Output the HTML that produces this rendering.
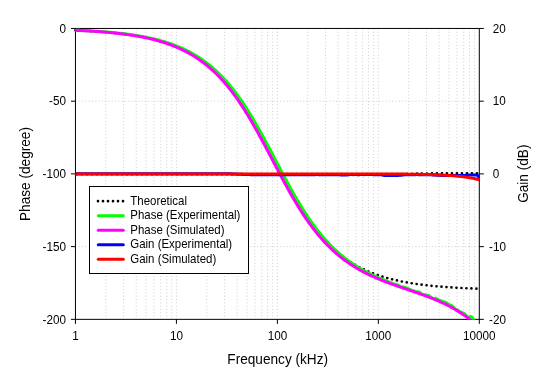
<!DOCTYPE html>
<html lang="en"><head><meta charset="utf-8"><title>Phase and Gain vs Frequency</title>
<style>
html,body{margin:0;padding:0;background:#fff;}
body{width:550px;height:374px;overflow:hidden;}
svg{display:block;}
text{font-family:"Liberation Sans", Arial, Helvetica, sans-serif;font-size:12px;fill:#000;}
.title{font-size:14.4px;}
.grid{stroke:#cdcdcd;stroke-width:1;stroke-dasharray:1 2.3;fill:none;}
.dot{stroke:#000;stroke-width:2.7;stroke-linecap:round;stroke-dasharray:0 5;fill:none;}
.ln{fill:none;stroke-width:3;stroke-linejoin:round;stroke-linecap:butt;}
</style></head><body>
<svg width="550" height="374" viewBox="0 0 550 374">
<rect width="550" height="374" fill="#fff"/>
<defs><clipPath id="cp"><rect x="73.95" y="27.95" width="406.45000000000005" height="291.90000000000003"/></clipPath></defs>
<path class="grid" d="M105.84,28.45 V319.35 M123.62,28.45 V319.35 M136.24,28.45 V319.35 M146.02,28.45 V319.35 M154.01,28.45 V319.35 M160.77,28.45 V319.35 M166.63,28.45 V319.35 M171.79,28.45 V319.35 M176.41,28.45 V319.35 M206.81,28.45 V319.35 M224.58,28.45 V319.35 M237.20,28.45 V319.35 M246.98,28.45 V319.35 M254.98,28.45 V319.35 M261.74,28.45 V319.35 M267.59,28.45 V319.35 M272.76,28.45 V319.35 M277.38,28.45 V319.35 M307.77,28.45 V319.35 M325.55,28.45 V319.35 M338.16,28.45 V319.35 M347.94,28.45 V319.35 M355.94,28.45 V319.35 M362.70,28.45 V319.35 M368.55,28.45 V319.35 M373.72,28.45 V319.35 M378.34,28.45 V319.35 M408.73,28.45 V319.35 M426.51,28.45 V319.35 M439.12,28.45 V319.35 M448.91,28.45 V319.35 M456.90,28.45 V319.35 M463.66,28.45 V319.35 M469.52,28.45 V319.35 M474.68,28.45 V319.35 M75.45,101.18 H479.3 M75.45,173.90 H479.3 M75.45,246.63 H479.3"/>
<rect x="75.45" y="28.45" width="403.85" height="290.90000000000003" fill="none" stroke="#000" stroke-width="1"/>
<g clip-path="url(#cp)">
<path class="dot" d="M75.45,30.30 L76.45,30.34 L77.45,30.39 L78.45,30.43 L79.45,30.48 L80.45,30.53 L81.45,30.57 L82.45,30.62 L83.45,30.67 L84.45,30.72 L85.45,30.78 L86.45,30.83 L87.45,30.88 L88.45,30.94 L89.44,31.00 L90.44,31.06 L91.44,31.12 L92.44,31.18 L93.44,31.24 L94.44,31.31 L95.44,31.37 L96.44,31.44 L97.44,31.51 L98.44,31.58 L99.44,31.65 L100.44,31.72 L101.44,31.80 L102.44,31.88 L103.44,31.96 L104.44,32.04 L105.44,32.12 L106.44,32.20 L107.44,32.29 L108.44,32.38 L109.44,32.47 L110.44,32.56 L111.44,32.66 L112.44,32.75 L113.44,32.85 L114.44,32.95 L115.44,33.06 L116.43,33.16 L117.43,33.27 L118.43,33.38 L119.43,33.50 L120.43,33.61 L121.43,33.73 L122.43,33.86 L123.43,33.98 L124.43,34.11 L125.43,34.24 L126.43,34.37 L127.43,34.51 L128.43,34.65 L129.43,34.79 L130.43,34.94 L131.43,35.09 L132.43,35.24 L133.43,35.39 L134.43,35.55 L135.43,35.72 L136.43,35.89 L137.43,36.06 L138.43,36.23 L139.43,36.41 L140.43,36.59 L141.43,36.78 L142.43,36.97 L143.42,37.17 L144.42,37.37 L145.42,37.58 L146.42,37.79 L147.42,38.00 L148.42,38.22 L149.42,38.44 L150.42,38.67 L151.42,38.91 L152.42,39.15 L153.42,39.40 L154.42,39.65 L155.42,39.91 L156.42,40.17 L157.42,40.44 L158.42,40.71 L159.42,41.00 L160.42,41.28 L161.42,41.58 L162.42,41.88 L163.42,42.19 L164.42,42.50 L165.42,42.83 L166.42,43.16 L167.42,43.49 L168.42,43.84 L169.42,44.19 L170.41,44.55 L171.41,44.92 L172.41,45.30 L173.41,45.68 L174.41,46.08 L175.41,46.48 L176.41,46.89 L177.41,47.32 L178.41,47.75 L179.41,48.19 L180.41,48.64 L181.41,49.10 L182.41,49.57 L183.41,50.05 L184.41,50.54 L185.41,51.05 L186.41,51.56 L187.41,52.09 L188.41,52.63 L189.41,53.17 L190.41,53.74 L191.41,54.31 L192.41,54.90 L193.41,55.50 L194.41,56.11 L195.41,56.73 L196.41,57.37 L197.40,58.03 L198.40,58.69 L199.40,59.38 L200.40,60.07 L201.40,60.78 L202.40,61.51 L203.40,62.25 L204.40,63.01 L205.40,63.78 L206.40,64.57 L207.40,65.38 L208.40,66.20 L209.40,67.04 L210.40,67.90 L211.40,68.77 L212.40,69.67 L213.40,70.58 L214.40,71.51 L215.40,72.46 L216.40,73.42 L217.40,74.41 L218.40,75.41 L219.40,76.44 L220.40,77.48 L221.40,78.55 L222.40,79.63 L223.40,80.74 L224.39,81.86 L225.39,83.01 L226.39,84.18 L227.39,85.36 L228.39,86.57 L229.39,87.80 L230.39,89.06 L231.39,90.33 L232.39,91.63 L233.39,92.94 L234.39,94.28 L235.39,95.64 L236.39,97.02 L237.39,98.43 L238.39,99.85 L239.39,101.30 L240.39,102.77 L241.39,104.26 L242.39,105.77 L243.39,107.30 L244.39,108.85 L245.39,110.42 L246.39,112.01 L247.39,113.62 L248.39,115.25 L249.39,116.90 L250.39,118.57 L251.38,120.26 L252.38,121.96 L253.38,123.68 L254.38,125.42 L255.38,127.17 L256.38,128.94 L257.38,130.72 L258.38,132.51 L259.38,134.32 L260.38,136.14 L261.38,137.98 L262.38,139.82 L263.38,141.67 L264.38,143.53 L265.38,145.40 L266.38,147.28 L267.38,149.16 L268.38,151.05 L269.38,152.94 L270.38,154.84 L271.38,156.74 L272.38,158.64 L273.38,160.54 L274.38,162.43 L275.38,164.33 L276.38,166.23 L277.38,168.12 L278.37,170.01 L279.37,171.89 L280.37,173.76 L281.37,175.63 L282.37,177.49 L283.37,179.34 L284.37,181.18 L285.37,183.01 L286.37,184.83 L287.37,186.63 L288.37,188.43 L289.37,190.20 L290.37,191.97 L291.37,193.72 L292.37,195.45 L293.37,197.17 L294.37,198.86 L295.37,200.55 L296.37,202.21 L297.37,203.85 L298.37,205.48 L299.37,207.09 L300.37,208.67 L301.37,210.24 L302.37,211.79 L303.37,213.31 L304.36,214.82 L305.36,216.30 L306.36,217.76 L307.36,219.21 L308.36,220.63 L309.36,222.02 L310.36,223.40 L311.36,224.76 L312.36,226.09 L313.36,227.40 L314.36,228.69 L315.36,229.96 L316.36,231.21 L317.36,232.43 L318.36,233.64 L319.36,234.82 L320.36,235.98 L321.36,237.12 L322.36,238.24 L323.36,239.34 L324.36,240.42 L325.36,241.48 L326.36,242.52 L327.36,243.54 L328.36,244.54 L329.36,245.52 L330.36,246.49 L331.35,247.43 L332.35,248.35 L333.35,249.26 L334.35,250.15 L335.35,251.02 L336.35,251.87 L337.35,252.71 L338.35,253.53 L339.35,254.33 L340.35,255.12 L341.35,255.89 L342.35,256.64 L343.35,257.38 L344.35,258.10 L345.35,258.81 L346.35,259.50 L347.35,260.18 L348.35,260.84 L349.35,261.49 L350.35,262.13 L351.35,262.75 L352.35,263.36 L353.35,263.96 L354.35,264.54 L355.35,265.11 L356.35,265.67 L357.35,266.22 L358.34,266.75 L359.34,267.27 L360.34,267.79 L361.34,268.29 L362.34,268.78 L363.34,269.26 L364.34,269.72 L365.34,270.18 L366.34,270.63 L367.34,271.07 L368.34,271.50 L369.34,271.92 L370.34,272.33 L371.34,272.73 L372.34,273.12 L373.34,273.50 L374.34,273.88 L375.34,274.25 L376.34,274.61 L377.34,274.96 L378.34,275.30 L379.34,275.64 L380.34,275.96 L381.34,276.28 L382.34,276.60 L383.34,276.90 L384.34,277.20 L385.33,277.50 L386.33,277.78 L387.33,278.06 L388.33,278.34 L389.33,278.61 L390.33,278.87 L391.33,279.12 L392.33,279.37 L393.33,279.62 L394.33,279.86 L395.33,280.09 L396.33,280.32 L397.33,280.54 L398.33,280.76 L399.33,280.98 L400.33,281.18 L401.33,281.39 L402.33,281.59 L403.33,281.78 L404.33,281.97 L405.33,282.16 L406.33,282.34 L407.33,282.52 L408.33,282.70 L409.33,282.87 L410.33,283.03 L411.33,283.19 L412.32,283.35 L413.32,283.51 L414.32,283.66 L415.32,283.81 L416.32,283.96 L417.32,284.10 L418.32,284.24 L419.32,284.37 L420.32,284.50 L421.32,284.63 L422.32,284.76 L423.32,284.88 L424.32,285.01 L425.32,285.12 L426.32,285.24 L427.32,285.35 L428.32,285.46 L429.32,285.57 L430.32,285.68 L431.32,285.78 L432.32,285.88 L433.32,285.98 L434.32,286.08 L435.32,286.17 L436.32,286.26 L437.32,286.35 L438.32,286.44 L439.31,286.53 L440.31,286.61 L441.31,286.69 L442.31,286.77 L443.31,286.85 L444.31,286.93 L445.31,287.00 L446.31,287.08 L447.31,287.15 L448.31,287.22 L449.31,287.29 L450.31,287.35 L451.31,287.42 L452.31,287.48 L453.31,287.55 L454.31,287.61 L455.31,287.67 L456.31,287.73 L457.31,287.78 L458.31,287.84 L459.31,287.89 L460.31,287.95 L461.31,288.00 L462.31,288.05 L463.31,288.10 L464.31,288.15 L465.31,288.20 L466.30,288.24 L467.30,288.29 L468.30,288.33 L469.30,288.38 L470.30,288.42 L471.30,288.46 L472.30,288.50 L473.30,288.54 L474.30,288.58 L475.30,288.62 L476.30,288.65 L477.30,288.69 L478.30,288.73 L479.30,288.76"/>
<path class="dot" d="M76.95,174.20 L395,174.15 L435,173.35 L479.3,173.35"/>
<path class="ln" stroke="#00ff00" d="M75.45,30.20 L76.45,30.24 L77.45,30.28 L78.45,30.32 L79.45,30.37 L80.45,30.41 L81.45,30.46 L82.45,30.50 L83.45,30.55 L84.45,30.60 L85.45,30.65 L86.45,30.70 L87.45,30.75 L88.45,30.80 L89.44,30.86 L90.44,30.91 L91.44,30.97 L92.44,31.03 L93.44,31.09 L94.44,31.15 L95.44,31.21 L96.44,31.28 L97.44,31.34 L98.44,31.41 L99.44,31.48 L100.44,31.55 L101.44,31.62 L102.44,31.69 L103.44,31.76 L104.44,31.84 L105.44,31.92 L106.44,32.00 L107.44,32.08 L108.44,32.17 L109.44,32.25 L110.44,32.34 L111.44,32.43 L112.44,32.52 L113.44,32.61 L114.44,32.71 L115.44,32.81 L116.43,32.91 L117.43,33.01 L118.43,33.12 L119.43,33.22 L120.43,33.33 L121.43,33.45 L122.43,33.56 L123.43,33.68 L124.43,33.80 L125.43,33.92 L126.43,34.05 L127.43,34.18 L128.43,34.31 L129.43,34.44 L130.43,34.58 L131.43,34.72 L132.43,34.87 L133.43,35.02 L134.43,35.17 L135.43,35.32 L136.43,35.48 L137.43,35.64 L138.43,35.81 L139.43,35.98 L140.43,36.15 L141.43,36.33 L142.43,36.51 L143.42,36.70 L144.42,36.89 L145.42,37.08 L146.42,37.28 L147.42,37.48 L148.42,37.69 L149.42,37.90 L150.42,38.12 L151.42,38.34 L152.42,38.57 L153.42,38.80 L154.42,39.04 L155.42,39.28 L156.42,39.53 L157.42,39.79 L158.42,40.05 L159.42,40.32 L160.42,40.59 L161.42,40.87 L162.42,41.15 L163.42,41.44 L164.42,41.74 L165.42,42.05 L166.42,42.36 L167.42,42.68 L168.42,43.01 L169.42,43.34 L170.41,43.68 L171.41,44.03 L172.41,44.39 L173.41,44.75 L174.41,45.13 L175.41,45.51 L176.41,45.90 L177.41,46.30 L178.41,46.71 L179.41,47.12 L180.41,47.55 L181.41,47.99 L182.41,48.43 L183.41,48.89 L184.41,49.36 L185.41,49.83 L186.41,50.32 L187.41,50.82 L188.41,51.33 L189.41,51.85 L190.41,52.38 L191.41,52.93 L192.41,53.48 L193.41,54.05 L194.41,54.63 L195.41,55.23 L196.41,55.83 L197.40,56.45 L198.40,57.09 L199.40,57.73 L200.40,58.39 L201.40,59.07 L202.40,59.76 L203.40,60.46 L204.40,61.18 L205.40,61.92 L206.40,62.67 L207.40,63.44 L208.40,64.22 L209.40,65.02 L210.40,65.83 L211.40,66.67 L212.40,67.52 L213.40,68.38 L214.40,69.27 L215.40,70.17 L216.40,71.09 L217.40,72.03 L218.40,72.99 L219.40,73.97 L220.40,74.97 L221.40,75.98 L222.40,77.02 L223.40,78.07 L224.39,79.15 L225.39,80.25 L226.39,81.36 L227.39,82.50 L228.39,83.66 L229.39,84.84 L230.39,86.04 L231.39,87.26 L232.39,88.51 L233.39,89.77 L234.39,91.06 L235.39,92.37 L236.39,93.70 L237.39,95.05 L238.39,96.42 L239.39,97.82 L240.39,99.23 L241.39,100.67 L242.39,102.13 L243.39,103.61 L244.39,105.12 L245.39,106.64 L246.39,108.18 L247.39,109.75 L248.39,111.33 L249.39,112.94 L250.39,114.56 L251.38,116.20 L252.38,117.87 L253.38,119.55 L254.38,121.25 L255.38,122.96 L256.38,124.69 L257.38,126.44 L258.38,128.21 L259.38,129.98 L260.38,131.78 L261.38,133.58 L262.38,135.40 L263.38,137.23 L264.38,139.08 L265.38,140.93 L266.38,142.79 L267.38,144.66 L268.38,146.54 L269.38,148.43 L270.38,150.32 L271.38,152.21 L272.38,154.11 L273.38,156.02 L274.38,157.92 L275.38,159.83 L276.38,161.73 L277.38,163.64 L278.37,165.54 L279.37,167.44 L280.37,169.34 L281.37,171.23 L282.37,173.12 L283.37,175.00 L284.37,176.87 L285.37,178.73 L286.37,180.58 L287.37,182.43 L288.37,184.26 L289.37,186.08 L290.37,187.89 L291.37,189.68 L292.37,191.46 L293.37,193.23 L294.37,194.98 L295.37,196.72 L296.37,198.43 L297.37,200.14 L298.37,201.82 L299.37,203.49 L300.37,205.13 L301.37,206.76 L302.37,208.37 L303.37,209.96 L304.36,211.53 L305.36,213.08 L306.36,214.61 L307.36,216.11 L308.36,217.60 L309.36,219.07 L310.36,220.51 L311.36,221.94 L312.36,223.34 L313.36,224.72 L314.36,226.08 L315.36,227.42 L316.36,228.74 L317.36,230.04 L318.36,231.31 L319.36,232.57 L320.36,233.80 L321.36,235.02 L322.36,236.21 L323.36,237.38 L324.36,238.53 L325.36,239.66 L326.36,240.78 L327.36,241.87 L328.36,242.94 L329.36,243.99 L330.36,245.03 L331.35,246.04 L332.35,247.04 L333.35,248.02 L334.35,248.98 L335.35,249.92 L336.35,250.84 L337.35,251.75 L338.35,252.64 L339.35,253.52 L340.35,254.38 L341.35,255.22 L342.35,256.04 L343.35,256.85 L344.35,257.65 L345.35,258.43 L346.35,259.19 L347.35,259.94 L348.35,260.68 L349.35,261.40 L350.35,262.11 L351.35,262.81 L352.35,263.49 L353.35,264.16 L354.35,264.82 L355.35,265.47 L356.35,266.10 L357.35,266.73 L358.34,267.34 L359.34,267.94 L360.34,268.53 L361.34,269.11 L362.34,269.68 L363.34,270.23 L364.34,270.78 L365.34,271.32 L366.34,271.85 L367.34,272.38 L368.34,272.89 L369.34,273.39 L370.34,273.89 L371.34,274.38 L372.34,274.86 L373.34,275.33 L374.34,275.79 L375.34,276.25 L376.34,276.70 L377.34,277.15 L378.34,277.59 L379.34,278.02 L380.34,278.45 L381.34,278.88 L382.34,279.30 L383.34,279.67 L384.34,280.07 L385.33,280.46 L386.33,280.85 L387.33,281.29 L388.33,281.69 L389.33,282.18 L390.33,282.53 L391.33,283.00 L392.33,283.38 L393.33,283.72 L394.33,283.98 L395.33,284.21 L396.33,284.50 L397.33,284.67 L398.33,285.27 L399.33,285.84 L400.33,286.30 L401.33,286.67 L402.33,286.89 L403.33,286.93 L404.33,287.13 L405.33,287.73 L406.33,288.04 L407.33,288.24 L408.33,288.76 L409.33,289.17 L410.33,289.58 L411.33,290.25 L412.32,290.47 L413.32,290.65 L414.32,290.95 L415.32,291.57 L416.32,291.85 L417.32,291.80 L418.32,291.95 L419.32,292.17 L420.32,292.60 L421.32,293.77 L422.32,294.32 L423.32,294.42 L424.32,295.04 L425.32,294.76 L426.32,295.15 L427.32,295.32 L428.32,295.45 L429.32,295.84 L430.32,296.67 L431.32,297.52 L432.32,298.06 L433.32,298.45 L434.32,298.39 L435.32,298.16 L436.32,298.65 L437.32,299.19 L438.32,299.54 L439.31,300.41 L440.31,300.48 L441.31,301.00 L442.31,301.12 L443.31,301.59 L444.31,301.86 L445.31,302.16 L446.31,302.60 L447.31,303.39 L448.31,304.04 L449.31,304.66 L450.31,305.54 L451.31,305.25 L452.31,306.29 L453.31,307.10 L454.31,308.04 L455.31,308.91 L456.31,309.73 L457.31,309.84 L458.31,310.53 L459.31,311.62 L460.31,311.71 L461.31,312.24 L462.31,312.64 L463.31,313.06 L464.31,313.60 L465.31,314.51 L466.30,315.97 L467.30,316.66 L468.30,317.34 L469.30,317.55 L470.30,316.44 L471.30,316.75 L472.30,317.51 L473.30,319.12 L474.30,320.73 L475.30,321.51 L476.30,321.86 L477.30,322.68 L478.30,323.50 L479.30,324.73"/>
<path class="ln" stroke="#ff00ff" d="M75.45,30.32 L76.45,30.37 L77.45,30.41 L78.45,30.46 L79.45,30.50 L80.45,30.55 L81.45,30.60 L82.45,30.65 L83.45,30.70 L84.45,30.75 L85.45,30.80 L86.45,30.86 L87.45,30.91 L88.45,30.97 L89.44,31.03 L90.44,31.09 L91.44,31.15 L92.44,31.21 L93.44,31.28 L94.44,31.34 L95.44,31.41 L96.44,31.48 L97.44,31.55 L98.44,31.62 L99.44,31.69 L100.44,31.76 L101.44,31.84 L102.44,31.92 L103.44,32.00 L104.44,32.08 L105.44,32.17 L106.44,32.25 L107.44,32.34 L108.44,32.43 L109.44,32.52 L110.44,32.61 L111.44,32.71 L112.44,32.81 L113.44,32.91 L114.44,33.01 L115.44,33.12 L116.43,33.22 L117.43,33.33 L118.43,33.45 L119.43,33.56 L120.43,33.68 L121.43,33.80 L122.43,33.92 L123.43,34.05 L124.43,34.18 L125.43,34.31 L126.43,34.45 L127.43,34.58 L128.43,34.72 L129.43,34.87 L130.43,35.02 L131.43,35.17 L132.43,35.32 L133.43,35.48 L134.43,35.64 L135.43,35.81 L136.43,35.98 L137.43,36.15 L138.43,36.33 L139.43,36.51 L140.43,36.70 L141.43,36.89 L142.43,37.08 L143.42,37.28 L144.42,37.48 L145.42,37.69 L146.42,37.90 L147.42,38.12 L148.42,38.34 L149.42,38.57 L150.42,38.80 L151.42,39.04 L152.42,39.28 L153.42,39.53 L154.42,39.79 L155.42,40.05 L156.42,40.32 L157.42,40.59 L158.42,40.87 L159.42,41.15 L160.42,41.44 L161.42,41.74 L162.42,42.05 L163.42,42.36 L164.42,42.68 L165.42,43.01 L166.42,43.34 L167.42,43.68 L168.42,44.03 L169.42,44.39 L170.41,44.75 L171.41,45.13 L172.41,45.51 L173.41,45.90 L174.41,46.30 L175.41,46.71 L176.41,47.12 L177.41,47.55 L178.41,47.99 L179.41,48.43 L180.41,48.89 L181.41,49.36 L182.41,49.83 L183.41,50.32 L184.41,50.82 L185.41,51.33 L186.41,51.85 L187.41,52.38 L188.41,52.93 L189.41,53.48 L190.41,54.05 L191.41,54.63 L192.41,55.23 L193.41,55.83 L194.41,56.45 L195.41,57.09 L196.41,57.73 L197.40,58.40 L198.40,59.07 L199.40,59.76 L200.40,60.47 L201.40,61.18 L202.40,61.92 L203.40,62.67 L204.40,63.44 L205.40,64.22 L206.40,65.02 L207.40,65.83 L208.40,66.67 L209.40,67.52 L210.40,68.38 L211.40,69.27 L212.40,70.17 L213.40,71.09 L214.40,72.03 L215.40,72.99 L216.40,73.97 L217.40,74.97 L218.40,75.98 L219.40,77.02 L220.40,78.08 L221.40,79.15 L222.40,80.25 L223.40,81.37 L224.39,82.50 L225.39,83.66 L226.39,84.84 L227.39,86.04 L228.39,87.26 L229.39,88.51 L230.39,89.77 L231.39,91.06 L232.39,92.37 L233.39,93.70 L234.39,95.05 L235.39,96.42 L236.39,97.82 L237.39,99.24 L238.39,100.67 L239.39,102.13 L240.39,103.62 L241.39,105.12 L242.39,106.64 L243.39,108.19 L244.39,109.75 L245.39,111.33 L246.39,112.94 L247.39,114.56 L248.39,116.21 L249.39,117.87 L250.39,119.55 L251.38,121.25 L252.38,122.96 L253.38,124.70 L254.38,126.44 L255.38,128.21 L256.38,129.99 L257.38,131.78 L258.38,133.59 L259.38,135.41 L260.38,137.24 L261.38,139.08 L262.38,140.93 L263.38,142.79 L264.38,144.66 L265.38,146.54 L266.38,148.43 L267.38,150.32 L268.38,152.22 L269.38,154.12 L270.38,156.02 L271.38,157.92 L272.38,159.83 L273.38,161.74 L274.38,163.64 L275.38,165.54 L276.38,167.44 L277.38,169.34 L278.37,171.23 L279.37,173.12 L280.37,175.00 L281.37,176.87 L282.37,178.73 L283.37,180.59 L284.37,182.43 L285.37,184.26 L286.37,186.08 L287.37,187.89 L288.37,189.69 L289.37,191.47 L290.37,193.23 L291.37,194.98 L292.37,196.72 L293.37,198.44 L294.37,200.14 L295.37,201.82 L296.37,203.49 L297.37,205.13 L298.37,206.76 L299.37,208.37 L300.37,209.96 L301.37,211.53 L302.37,213.08 L303.37,214.61 L304.36,216.12 L305.36,217.60 L306.36,219.07 L307.36,220.52 L308.36,221.94 L309.36,223.34 L310.36,224.72 L311.36,226.09 L312.36,227.42 L313.36,228.74 L314.36,230.04 L315.36,231.32 L316.36,232.57 L317.36,233.80 L318.36,235.02 L319.36,236.21 L320.36,237.38 L321.36,238.53 L322.36,239.67 L323.36,240.78 L324.36,241.87 L325.36,242.94 L326.36,243.99 L327.36,245.03 L328.36,246.04 L329.36,247.04 L330.36,248.02 L331.35,248.98 L332.35,249.92 L333.35,250.85 L334.35,251.75 L335.35,252.64 L336.35,253.52 L337.35,254.38 L338.35,255.22 L339.35,256.04 L340.35,256.85 L341.35,257.65 L342.35,258.43 L343.35,259.19 L344.35,259.95 L345.35,260.68 L346.35,261.41 L347.35,262.11 L348.35,262.81 L349.35,263.49 L350.35,264.17 L351.35,264.82 L352.35,265.47 L353.35,266.10 L354.35,266.73 L355.35,267.34 L356.35,267.94 L357.35,268.53 L358.34,269.11 L359.34,269.68 L360.34,270.23 L361.34,270.78 L362.34,271.32 L363.34,271.85 L364.34,272.38 L365.34,272.89 L366.34,273.39 L367.34,273.89 L368.34,274.38 L369.34,274.86 L370.34,275.33 L371.34,275.80 L372.34,276.25 L373.34,276.70 L374.34,277.15 L375.34,277.59 L376.34,278.02 L377.34,278.45 L378.34,278.87 L379.34,279.28 L380.34,279.69 L381.34,280.10 L382.34,280.50 L383.34,280.89 L384.34,281.28 L385.33,281.67 L386.33,282.05 L387.33,282.43 L388.33,282.80 L389.33,283.17 L390.33,283.54 L391.33,283.90 L392.33,284.27 L393.33,284.63 L394.33,284.98 L395.33,285.34 L396.33,285.69 L397.33,286.04 L398.33,286.38 L399.33,286.73 L400.33,287.08 L401.33,287.42 L402.33,287.76 L403.33,288.10 L404.33,288.44 L405.33,288.78 L406.33,289.12 L407.33,289.46 L408.33,289.80 L409.33,290.14 L410.33,290.48 L411.33,290.83 L412.32,291.17 L413.32,291.51 L414.32,291.86 L415.32,292.20 L416.32,292.55 L417.32,292.90 L418.32,293.25 L419.32,293.60 L420.32,293.96 L421.32,294.31 L422.32,294.67 L423.32,295.04 L424.32,295.40 L425.32,295.77 L426.32,296.15 L427.32,296.53 L428.32,296.91 L429.32,297.29 L430.32,297.68 L431.32,298.08 L432.32,298.48 L433.32,298.88 L434.32,299.29 L435.32,299.71 L436.32,300.13 L437.32,300.55 L438.32,300.99 L439.31,301.43 L440.31,301.87 L441.31,302.33 L442.31,302.79 L443.31,303.26 L444.31,303.73 L445.31,304.22 L446.31,304.71 L447.31,305.21 L448.31,305.72 L449.31,306.24 L450.31,306.77 L451.31,307.31 L452.31,307.86 L453.31,308.42 L454.31,308.99 L455.31,309.57 L456.31,310.16 L457.31,310.77 L458.31,311.38 L459.31,312.01 L460.31,312.65 L461.31,313.31 L462.31,313.98 L463.31,314.66 L464.31,315.36 L465.31,316.07 L466.30,316.80 L467.30,317.54 L468.30,318.30 L469.30,319.07 L470.30,319.87 L471.30,320.68 L472.30,321.50 L473.30,322.35 L474.30,323.22 L475.30,324.10 L476.30,325.00 L477.30,325.93 L478.30,326.87 L479.30,327.84"/>
<path class="ln" stroke="#0000ff" stroke-width="3" d="M75.45,173.81 L76.45,173.81 L77.45,173.81 L78.45,173.80 L79.45,173.81 L80.45,173.81 L81.45,173.80 L82.45,173.81 L83.45,173.81 L84.45,173.82 L85.45,173.82 L86.45,173.82 L87.45,173.82 L88.45,173.82 L89.44,173.80 L90.44,173.79 L91.44,173.79 L92.44,173.78 L93.44,173.78 L94.44,173.78 L95.44,173.79 L96.44,173.78 L97.44,173.80 L98.44,173.81 L99.44,173.80 L100.44,173.81 L101.44,173.82 L102.44,173.81 L103.44,173.79 L104.44,173.80 L105.44,173.80 L106.44,173.80 L107.44,173.81 L108.44,173.81 L109.44,173.82 L110.44,173.82 L111.44,173.83 L112.44,173.83 L113.44,173.82 L114.44,173.82 L115.44,173.81 L116.43,173.82 L117.43,173.81 L118.43,173.80 L119.43,173.82 L120.43,173.81 L121.43,173.81 L122.43,173.82 L123.43,173.82 L124.43,173.81 L125.43,173.80 L126.43,173.79 L127.43,173.79 L128.43,173.80 L129.43,173.79 L130.43,173.79 L131.43,173.78 L132.43,173.78 L133.43,173.79 L134.43,173.81 L135.43,173.81 L136.43,173.80 L137.43,173.80 L138.43,173.79 L139.43,173.79 L140.43,173.79 L141.43,173.78 L142.43,173.78 L143.42,173.79 L144.42,173.79 L145.42,173.78 L146.42,173.79 L147.42,173.79 L148.42,173.80 L149.42,173.80 L150.42,173.80 L151.42,173.80 L152.42,173.79 L153.42,173.80 L154.42,173.81 L155.42,173.80 L156.42,173.80 L157.42,173.80 L158.42,173.79 L159.42,173.81 L160.42,173.81 L161.42,173.80 L162.42,173.80 L163.42,173.81 L164.42,173.81 L165.42,173.81 L166.42,173.80 L167.42,173.80 L168.42,173.80 L169.42,173.81 L170.41,173.80 L171.41,173.80 L172.41,173.81 L173.41,173.80 L174.41,173.81 L175.41,173.80 L176.41,173.80 L177.41,173.80 L178.41,173.79 L179.41,173.79 L180.41,173.79 L181.41,173.79 L182.41,173.79 L183.41,173.80 L184.41,173.80 L185.41,173.79 L186.41,173.79 L187.41,173.79 L188.41,173.79 L189.41,173.79 L190.41,173.78 L191.41,173.77 L192.41,173.77 L193.41,173.78 L194.41,173.80 L195.41,173.80 L196.41,173.79 L197.40,173.80 L198.40,173.80 L199.40,173.82 L200.40,173.82 L201.40,173.81 L202.40,173.80 L203.40,173.80 L204.40,173.82 L205.40,173.83 L206.40,173.82 L207.40,173.81 L208.40,173.81 L209.40,173.81 L210.40,173.82 L211.40,173.82 L212.40,173.81 L213.40,173.81 L214.40,173.81 L215.40,173.81 L216.40,173.80 L217.40,173.79 L218.40,173.78 L219.40,173.77 L220.40,173.77 L221.40,173.77 L222.40,173.77 L223.40,173.77 L224.39,173.77 L225.39,173.77 L226.39,173.79 L227.39,173.80 L228.39,173.81 L229.39,173.83 L230.39,173.86 L231.39,173.89 L232.39,173.94 L233.39,173.97 L234.39,174.00 L235.39,174.06 L236.39,174.10 L237.39,174.13 L238.39,174.18 L239.39,174.23 L240.39,174.28 L241.39,174.33 L242.39,174.37 L243.39,174.40 L244.39,174.45 L245.39,174.49 L246.39,174.52 L247.39,174.55 L248.39,174.58 L249.39,174.61 L250.39,174.64 L251.38,174.67 L252.38,174.68 L253.38,174.68 L254.38,174.70 L255.38,174.70 L256.38,174.72 L257.38,174.72 L258.38,174.73 L259.38,174.73 L260.38,174.73 L261.38,174.73 L262.38,174.73 L263.38,174.73 L264.38,174.72 L265.38,174.72 L266.38,174.71 L267.38,174.72 L268.38,174.73 L269.38,174.73 L270.38,174.74 L271.38,174.72 L272.38,174.71 L273.38,174.71 L274.38,174.72 L275.38,174.71 L276.38,174.70 L277.38,174.70 L278.37,174.70 L279.37,174.72 L280.37,174.71 L281.37,174.71 L282.37,174.72 L283.37,174.72 L284.37,174.75 L285.37,174.76 L286.37,174.78 L287.37,174.78 L288.37,174.79 L289.37,174.77 L290.37,174.76 L291.37,174.76 L292.37,174.76 L293.37,174.74 L294.37,174.71 L295.37,174.69 L296.37,174.72 L297.37,174.72 L298.37,174.73 L299.37,174.70 L300.37,174.68 L301.37,174.67 L302.37,174.70 L303.37,174.73 L304.36,174.70 L305.36,174.69 L306.36,174.67 L307.36,174.70 L308.36,174.74 L309.36,174.73 L310.36,174.67 L311.36,174.65 L312.36,174.64 L313.36,174.62 L314.36,174.64 L315.36,174.64 L316.36,174.56 L317.36,174.60 L318.36,174.65 L319.36,174.68 L320.36,174.68 L321.36,174.79 L322.36,174.80 L323.36,174.76 L324.36,174.83 L325.36,174.80 L326.36,174.80 L327.36,174.73 L328.36,174.77 L329.36,174.68 L330.36,174.70 L331.35,174.75 L332.35,174.73 L333.35,174.77 L334.35,174.78 L335.35,174.76 L336.35,174.75 L337.35,174.78 L338.35,174.76 L339.35,174.77 L340.35,174.88 L341.35,174.88 L342.35,174.88 L343.35,174.95 L344.35,174.99 L345.35,174.90 L346.35,174.95 L347.35,174.90 L348.35,174.68 L349.35,174.63 L350.35,174.60 L351.35,174.60 L352.35,174.54 L353.35,174.64 L354.35,174.58 L355.35,174.60 L356.35,174.61 L357.35,174.66 L358.34,174.71 L359.34,174.69 L360.34,174.62 L361.34,174.54 L362.34,174.60 L363.34,174.58 L364.34,174.63 L365.34,174.59 L366.34,174.57 L367.34,174.57 L368.34,174.61 L369.34,174.60 L370.34,174.53 L371.34,174.59 L372.34,174.61 L373.34,174.68 L374.34,174.66 L375.34,174.68 L376.34,174.72 L377.34,174.78 L378.34,174.82 L379.34,174.80 L380.34,174.80 L381.34,174.86 L382.34,175.02 L383.34,175.23 L384.34,175.41 L385.33,175.55 L386.33,175.48 L387.33,175.48 L388.33,175.55 L389.33,175.50 L390.33,175.56 L391.33,175.55 L392.33,175.54 L393.33,175.45 L394.33,175.55 L395.33,175.50 L396.33,175.43 L397.33,175.50 L398.33,175.40 L399.33,175.35 L400.33,175.31 L401.33,175.28 L402.33,175.10 L403.33,174.95 L404.33,174.80 L405.33,174.64 L406.33,174.66 L407.33,174.67 L408.33,174.79 L409.33,174.80 L410.33,174.71 L411.33,174.65 L412.32,174.70 L413.32,174.66 L414.32,174.64 L415.32,174.68 L416.32,174.56 L417.32,174.59 L418.32,174.73 L419.32,174.74 L420.32,174.72 L421.32,174.74 L422.32,174.72 L423.32,174.71 L424.32,174.76 L425.32,174.70 L426.32,174.68 L427.32,174.67 L428.32,174.63 L429.32,174.66 L430.32,174.77 L431.32,174.84 L432.32,174.91 L433.32,174.94 L434.32,174.97 L435.32,175.10 L436.32,175.13 L437.32,175.20 L438.32,175.25 L439.31,175.30 L440.31,175.33 L441.31,175.44 L442.31,175.48 L443.31,175.49 L444.31,175.54 L445.31,175.53 L446.31,175.51 L447.31,175.50 L448.31,175.50 L449.31,175.50 L450.31,175.50 L451.31,175.50 L452.31,175.50 L453.31,175.50 L454.31,175.50 L455.31,175.50 L456.31,175.50 L457.31,175.50 L458.31,175.50 L459.31,175.50 L460.31,175.50 L461.31,175.50 L462.31,175.50 L463.31,175.50 L464.31,175.50 L465.31,175.43 L466.30,175.30 L467.30,175.15 L468.30,175.02 L469.30,174.92 L470.30,174.90 L471.30,174.90 L472.30,174.90 L473.30,174.90 L474.30,174.90 L475.30,174.90 L476.30,174.90 L477.30,175.02 L478.30,176.44 L479.30,177.75"/>
<path class="ln" stroke="#ff0000" stroke-width="3.5" d="M75.45,173.90 L76.45,173.90 L77.45,173.90 L78.45,173.90 L79.45,173.90 L80.45,173.90 L81.45,173.90 L82.45,173.90 L83.45,173.90 L84.45,173.90 L85.45,173.90 L86.45,173.90 L87.45,173.90 L88.45,173.90 L89.44,173.90 L90.44,173.90 L91.44,173.90 L92.44,173.90 L93.44,173.90 L94.44,173.90 L95.44,173.90 L96.44,173.90 L97.44,173.90 L98.44,173.90 L99.44,173.90 L100.44,173.90 L101.44,173.90 L102.44,173.90 L103.44,173.90 L104.44,173.90 L105.44,173.90 L106.44,173.90 L107.44,173.90 L108.44,173.90 L109.44,173.90 L110.44,173.90 L111.44,173.90 L112.44,173.90 L113.44,173.90 L114.44,173.90 L115.44,173.90 L116.43,173.90 L117.43,173.90 L118.43,173.90 L119.43,173.90 L120.43,173.90 L121.43,173.90 L122.43,173.90 L123.43,173.90 L124.43,173.90 L125.43,173.90 L126.43,173.90 L127.43,173.90 L128.43,173.90 L129.43,173.90 L130.43,173.90 L131.43,173.90 L132.43,173.90 L133.43,173.90 L134.43,173.90 L135.43,173.90 L136.43,173.90 L137.43,173.90 L138.43,173.90 L139.43,173.90 L140.43,173.90 L141.43,173.90 L142.43,173.90 L143.42,173.90 L144.42,173.90 L145.42,173.90 L146.42,173.90 L147.42,173.90 L148.42,173.90 L149.42,173.90 L150.42,173.90 L151.42,173.90 L152.42,173.90 L153.42,173.90 L154.42,173.90 L155.42,173.90 L156.42,173.90 L157.42,173.90 L158.42,173.90 L159.42,173.90 L160.42,173.90 L161.42,173.90 L162.42,173.90 L163.42,173.90 L164.42,173.90 L165.42,173.90 L166.42,173.90 L167.42,173.90 L168.42,173.90 L169.42,173.90 L170.41,173.90 L171.41,173.90 L172.41,173.90 L173.41,173.90 L174.41,173.90 L175.41,173.90 L176.41,173.90 L177.41,173.90 L178.41,173.90 L179.41,173.90 L180.41,173.90 L181.41,173.90 L182.41,173.90 L183.41,173.90 L184.41,173.90 L185.41,173.90 L186.41,173.90 L187.41,173.90 L188.41,173.90 L189.41,173.90 L190.41,173.90 L191.41,173.90 L192.41,173.90 L193.41,173.90 L194.41,173.90 L195.41,173.90 L196.41,173.90 L197.40,173.90 L198.40,173.90 L199.40,173.90 L200.40,173.90 L201.40,173.90 L202.40,173.90 L203.40,173.90 L204.40,173.90 L205.40,173.90 L206.40,173.90 L207.40,173.90 L208.40,173.90 L209.40,173.90 L210.40,173.90 L211.40,173.90 L212.40,173.90 L213.40,173.90 L214.40,173.90 L215.40,173.90 L216.40,173.90 L217.40,173.90 L218.40,173.90 L219.40,173.90 L220.40,173.90 L221.40,173.90 L222.40,173.90 L223.40,173.90 L224.39,173.90 L225.39,173.90 L226.39,173.90 L227.39,173.90 L228.39,173.90 L229.39,173.90 L230.39,173.90 L231.39,173.90 L232.39,173.90 L233.39,173.90 L234.39,173.90 L235.39,173.90 L236.39,173.90 L237.39,173.90 L238.39,173.90 L239.39,173.90 L240.39,173.90 L241.39,173.90 L242.39,173.90 L243.39,173.90 L244.39,173.90 L245.39,173.90 L246.39,173.90 L247.39,173.90 L248.39,173.90 L249.39,173.90 L250.39,173.90 L251.38,173.90 L252.38,173.90 L253.38,173.90 L254.38,173.90 L255.38,173.90 L256.38,173.90 L257.38,173.90 L258.38,173.90 L259.38,173.90 L260.38,173.90 L261.38,173.90 L262.38,173.90 L263.38,173.90 L264.38,173.90 L265.38,173.90 L266.38,173.90 L267.38,173.90 L268.38,173.90 L269.38,173.90 L270.38,173.90 L271.38,173.90 L272.38,173.90 L273.38,173.90 L274.38,173.90 L275.38,173.90 L276.38,173.90 L277.38,173.90 L278.37,173.90 L279.37,173.90 L280.37,173.90 L281.37,173.90 L282.37,173.90 L283.37,173.90 L284.37,173.90 L285.37,173.90 L286.37,173.90 L287.37,173.90 L288.37,173.90 L289.37,173.90 L290.37,173.90 L291.37,173.90 L292.37,173.90 L293.37,173.90 L294.37,173.90 L295.37,173.90 L296.37,173.90 L297.37,173.90 L298.37,173.90 L299.37,173.90 L300.37,173.90 L301.37,173.90 L302.37,173.90 L303.37,173.90 L304.36,173.90 L305.36,173.90 L306.36,173.90 L307.36,173.90 L308.36,173.90 L309.36,173.90 L310.36,173.90 L311.36,173.90 L312.36,173.90 L313.36,173.90 L314.36,173.90 L315.36,173.90 L316.36,173.90 L317.36,173.90 L318.36,173.90 L319.36,173.90 L320.36,173.90 L321.36,173.90 L322.36,173.90 L323.36,173.91 L324.36,173.91 L325.36,173.91 L326.36,173.91 L327.36,173.91 L328.36,173.91 L329.36,173.91 L330.36,173.91 L331.35,173.91 L332.35,173.91 L333.35,173.91 L334.35,173.91 L335.35,173.91 L336.35,173.91 L337.35,173.91 L338.35,173.91 L339.35,173.91 L340.35,173.91 L341.35,173.91 L342.35,173.91 L343.35,173.91 L344.35,173.91 L345.35,173.91 L346.35,173.91 L347.35,173.92 L348.35,173.92 L349.35,173.92 L350.35,173.92 L351.35,173.92 L352.35,173.92 L353.35,173.92 L354.35,173.92 L355.35,173.92 L356.35,173.92 L357.35,173.92 L358.34,173.93 L359.34,173.93 L360.34,173.93 L361.34,173.93 L362.34,173.93 L363.34,173.93 L364.34,173.93 L365.34,173.94 L366.34,173.94 L367.34,173.94 L368.34,173.94 L369.34,173.94 L370.34,173.94 L371.34,173.95 L372.34,173.95 L373.34,173.95 L374.34,173.95 L375.34,173.96 L376.34,173.96 L377.34,173.96 L378.34,173.96 L379.34,173.97 L380.34,173.97 L381.34,173.97 L382.34,173.98 L383.34,173.98 L384.34,173.98 L385.33,173.99 L386.33,173.99 L387.33,174.00 L388.33,174.00 L389.33,174.00 L390.33,174.01 L391.33,174.01 L392.33,174.02 L393.33,174.03 L394.33,174.03 L395.33,174.04 L396.33,174.04 L397.33,174.05 L398.33,174.06 L399.33,174.07 L400.33,174.07 L401.33,174.08 L402.33,174.09 L403.33,174.10 L404.33,174.11 L405.33,174.12 L406.33,174.13 L407.33,174.14 L408.33,174.15 L409.33,174.16 L410.33,174.17 L411.33,174.18 L412.32,174.20 L413.32,174.21 L414.32,174.23 L415.32,174.24 L416.32,174.26 L417.32,174.27 L418.32,174.29 L419.32,174.31 L420.32,174.33 L421.32,174.35 L422.32,174.37 L423.32,174.39 L424.32,174.41 L425.32,174.44 L426.32,174.46 L427.32,174.49 L428.32,174.51 L429.32,174.54 L430.32,174.57 L431.32,174.60 L432.32,174.64 L433.32,174.67 L434.32,174.71 L435.32,174.74 L436.32,174.78 L437.32,174.82 L438.32,174.86 L439.31,174.91 L440.31,174.96 L441.31,175.00 L442.31,175.05 L443.31,175.11 L444.31,175.16 L445.31,175.22 L446.31,175.28 L447.31,175.34 L448.31,175.41 L449.31,175.48 L450.31,175.55 L451.31,175.62 L452.31,175.70 L453.31,175.78 L454.31,175.87 L455.31,175.96 L456.31,176.05 L457.31,176.15 L458.31,176.25 L459.31,176.35 L460.31,176.46 L461.31,176.58 L462.31,176.70 L463.31,176.82 L464.31,176.95 L465.31,177.09 L466.30,177.23 L467.30,177.38 L468.30,177.53 L469.30,177.69 L470.30,177.86 L471.30,178.03 L472.30,178.21 L473.30,178.40 L474.30,178.59 L475.30,178.79 L476.30,179.00 L477.30,179.22 L478.30,179.45 L479.30,179.69"/>
</g>
<path d="M70.95,28.45 H75.45 M70.95,101.18 H75.45 M70.95,173.90 H75.45 M70.95,246.63 H75.45 M70.95,319.35 H75.45 M479.3,28.45 H483.8 M479.3,101.18 H483.8 M479.3,173.90 H483.8 M479.3,246.63 H483.8 M479.3,319.35 H483.8 M75.45,319.35 V323.85 M176.41,319.35 V323.85 M277.38,319.35 V323.85 M378.34,319.35 V323.85 M479.30,319.35 V323.85" stroke="#000" stroke-width="1" fill="none"/>
<rect x="89.5" y="186.5" width="159" height="87" fill="#fff" stroke="#000" stroke-width="1"/><path d="M98,201.20 H123.1" class="dot"/><text transform="translate(130.3,204.90) scale(0.956,1)">Theoretical</text><path d="M98.3,215.70 H123.3" stroke="#00ff00" stroke-width="3" stroke-linecap="round" fill="none"/><text transform="translate(130.3,219.40) scale(0.956,1)">Phase (Experimental)</text><path d="M98.3,230.20 H123.3" stroke="#ff00ff" stroke-width="3" stroke-linecap="round" fill="none"/><text transform="translate(130.3,233.90) scale(0.956,1)">Phase (Simulated)</text><path d="M98.3,244.70 H123.3" stroke="#0000ff" stroke-width="3" stroke-linecap="round" fill="none"/><text transform="translate(130.3,248.40) scale(0.956,1)">Gain (Experimental)</text><path d="M98.3,259.20 H123.3" stroke="#ff0000" stroke-width="3" stroke-linecap="round" fill="none"/><text transform="translate(130.3,262.90) scale(0.956,1)">Gain (Simulated)</text>
<g><text transform="translate(66.0,33.10) scale(0.975,1)" text-anchor="end">0</text><text transform="translate(66.0,104.98) scale(0.975,1)" text-anchor="end">-50</text><text transform="translate(66.0,177.75) scale(0.975,1)" text-anchor="end">-100</text><text transform="translate(66.0,251.08) scale(0.975,1)" text-anchor="end">-150</text><text transform="translate(66.0,323.50) scale(0.975,1)" text-anchor="end">-200</text></g>
<g><text transform="translate(492.8,33.00) scale(0.975,1)">20</text><text transform="translate(492.8,105.23) scale(0.975,1)">10</text><text transform="translate(492.8,177.85) scale(0.975,1)">0</text><text transform="translate(489.0,251.28) scale(0.975,1)">-10</text><text transform="translate(489.0,323.70) scale(0.975,1)">-20</text></g>
<g><text transform="translate(75.45,339.5) scale(0.975,1)" text-anchor="middle">1</text><text transform="translate(176.41,339.5) scale(0.975,1)" text-anchor="middle">10</text><text transform="translate(277.38,339.5) scale(0.975,1)" text-anchor="middle">100</text><text transform="translate(378.34,339.5) scale(0.975,1)" text-anchor="middle">1000</text><text transform="translate(479.30,339.5) scale(0.975,1)" text-anchor="middle">10000</text></g>
<text class="title" transform="translate(277.7,364.3) scale(0.947,1)" text-anchor="middle">Frequency (kHz)</text>
<text class="title" transform="translate(30.2,174.0) rotate(-90) scale(0.947,1)" text-anchor="middle">Phase (degree)</text>
<text class="title" transform="translate(528.4,173.7) rotate(-90) scale(0.947,1)" text-anchor="middle">Gain (dB)</text>
</svg>
</body></html>
